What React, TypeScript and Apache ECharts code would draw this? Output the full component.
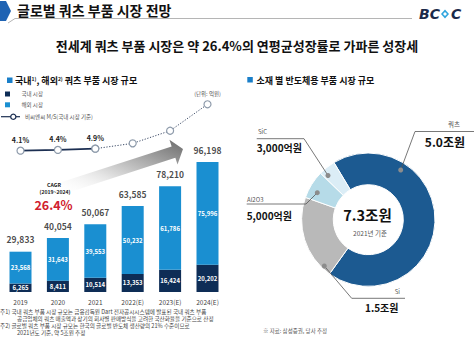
import React, { useEffect, useRef } from "react";
import * as echarts from "echarts";

// ---- data ----
const years = ["2019", "2020", "2021", "2022(E)", "2023(E)", "2024(E)"];
const domestic = [6265, 8411, 10514, 13353, 16424, 20202];
const overseas = [23568, 31643, 39553, 50232, 61786, 75996];
const totals = [29833, 40054, 50067, 63585, 78210, 96198];
const shareActual = [4.1, 4.4, 4.9, null, null, null];
const shareProjected = [null, null, 4.9, 7.0, 12.0, 22.5];

const materials = ["쿼츠", "Si", "Al2O3", "SiC"];
const materialValues = [5.0, 1.5, 0.5, 0.3]; // 조원
const materialLabels = ["5.0조원", "1.5조원", "5,000억원", "3,000억원"];
const pieTotalLabel = "7.3조원";
const pieBasis = "2021년 기준";

const titleText = "글로벌 쿼츠 부품 시장 전망";
const subtitleText = "전세계 쿼츠 부품 시장은 약 26.4%의 연평균성장률로 가파른 성장세";
const legendNames = ["국내 시장", "해외 시장", "비씨엔씨 M/S(국내 시장 기준)"];
const footnotes = [
  "주1) 국내 쿼츠 부품 시장 규모는 금융감독원 Dart 전자공시시스템에 발표된 국내 쿼츠 부품",
  "공급업체의 쿼츠 매출액과 상기의 회사별 판매방식을 고려한 국산화율을 기준으로 산정",
  "주2) 글로벌 쿼츠 부품 시장 규모는 한국의 글로벌 반도체 생산량의 21% 수준이므로",
  "2021년도 기준, 약 5조원 추정",
];

const KR = '"Noto Sans CJK KR", "Noto Sans", sans-serif';
const C_DOM = "#0e2d56";
const C_OVR = "#1a8fd1";
const PIE_COLORS = ["#1c5a91", "#b9b9b9", "#b6dbe8", "#dbedf6"];
const fmt = (v: number) => v.toLocaleString("en-US");

function txt(x: number, y: number, text: string, size: number, opts: any = {}) {
  const align = opts.align || "left";
  const valign = opts.valign || "middle";
  return {
    type: "text",
    x,
    y,
    silent: true,
    z: opts.z || 10,
    style: {
      text,
      fill: opts.color || "#222",
      font: opts.font || `${opts.bold ? "bold " : ""}${size}px ${KR}`,
      align,
      verticalAlign: valign,
      textAlign: align,
      textVerticalAlign: valign,
      rich: opts.rich,
    },
  };
}

function line(points: number[][], color = "#555", width = 0.8, extra: any = {}) {
  return {
    type: "polyline",
    silent: true,
    z: 5,
    shape: { points },
    style: { stroke: color, lineWidth: width, fill: null, ...extra },
  };
}

function dot(x: number, y: number, r = 2.5, fill = "#8c8c8c", stroke?: string, lw = 1) {
  return {
    type: "circle",
    silent: true,
    z: 12,
    shape: { cx: x, cy: y, r },
    style: { fill, stroke: stroke || null, lineWidth: lw },
  };
}

function rect(x: number, y: number, w: number, h: number, fill: string) {
  return { type: "rect", silent: true, z: 10, shape: { x, y, width: w, height: h }, style: { fill } };
}

export default function App() {
  const ref = useRef<HTMLDivElement>(null);

  useEffect(() => {
    if (!ref.current) return;
    const chart = echarts.init(ref.current, null, { renderer: "svg" });
    const LOGO_FONT = 'italic bold 14px "DejaVu Sans", sans-serif';

    const graphic: any[] = [
      // header
      {
        type: "polygon",
        silent: true,
        shape: { points: [[0, 1], [6, 1], [11, 11], [6, 21], [0, 21]] },
        style: { fill: "#1f63b3" },
      },
      line([[8, 23], [15, 18.5], [412, 18.5]], "#b5b5b5", 1),
      txt(17, 9.5, titleText, 14, { bold: true, color: "#111" }),
      // logo
      txt(419, 14, "BC", 14, { font: LOGO_FONT, color: "#1b2a4a" }),
      {
        type: "polygon",
        silent: true,
        shape: { points: [[445, 9.5], [449, 14], [445, 18.5], [441, 14]] },
        style: { fill: "#2ea5de" },
      },
      {
        type: "polygon",
        silent: true,
        shape: { points: [[445, 12], [447, 14], [445, 16], [443, 14]] },
        style: { fill: "#ffffff" },
      },
      txt(451, 14, "C", 14, { font: LOGO_FONT, color: "#1b2a4a" }),
      // subtitle
      txt(237, 45, subtitleText, 13, { bold: true, color: "#111", align: "center" }),
      // section headers
      rect(7, 77.5, 5.5, 5.5, "#1a7fc9"),
      txt(15, 80.5, "{b|국내}{s|1)}{b|, 해외}{s|2)}{b| 쿼츠 부품 시장 규모}", 9, {
        bold: true,
        rich: {
          b: { fontSize: 9, fontWeight: "bold", fontFamily: KR, fill: "#111", color: "#111" },
          s: { fontSize: 5, fontWeight: "bold", fontFamily: KR, fill: "#111", color: "#111", verticalAlign: "top" },
        },
      }),
      rect(247.3, 77, 5.5, 5.5, "#1a7fc9"),
      txt(256.5, 80, "소재 별 반도체용 부품 시장 규모", 9, { bold: true, color: "#111" }),
      // legend
      rect(5, 91.5, 5, 5, C_DOM),
      txt(21.5, 94.3, legendNames[0], 5.5, { color: "#555" }),
      rect(5, 102.3, 5, 5, C_OVR),
      txt(21.5, 105, legendNames[1], 5.5, { color: "#555" }),
      line([[1, 116.7], [20, 116.7]], "#1c2f52", 1.2),
      dot(13.3, 116.7, 2.6, "#fff", "#1c2f52", 1.3),
      txt(25, 116.7, legendNames[2], 5.5, { color: "#555" }),
      txt(207.5, 93.5, "(단위: 억원)", 5.5, { color: "#555", align: "center" }),
      // growth arrow
      {
        type: "polygon",
        silent: true,
        z: 1,
        shape: {
          points: [
            [60.15, 182.6],
            [171.64, 146.38],
            [169.47, 139.73],
            [183, 149],
            [177.51, 164.45],
            [175.34, 157.8],
            [63.85, 194.0],
          ],
        },
        style: {
          fill: new echarts.graphic.LinearGradient(0, 1, 1, 0, [
            { offset: 0, color: "rgba(255,255,255,0)" },
            { offset: 0.35, color: "#e4e4e4" },
            { offset: 1, color: "#6b6b6b" },
          ]),
        },
      },
      // CAGR
      txt(54, 184.6, "CAGR", 5.2, { bold: true, color: "#222", align: "center" }),
      txt(55, 191.6, "(2019~2024)", 5.1, { bold: true, color: "#222", align: "center" }),
      txt(53.5, 204.5, "26.4%", 12.5, { bold: true, color: "#d0202e", align: "center" }),
      // footnotes
      txt(0, 312, footnotes[0], 5.6, { color: "#444" }),
      txt(17, 319.3, footnotes[1], 5.6, { color: "#444" }),
      txt(0, 326.3, footnotes[2], 5.6, { color: "#444" }),
      txt(17, 333.3, footnotes[3], 5.6, { color: "#444" }),
      // pie center
      txt(367.5, 214, pieTotalLabel, 14.5, { bold: true, color: "#111", align: "center" }),
      txt(370, 232.5, pieBasis, 6.5, { color: "#555", align: "center" }),
      // pie annotations: quartz
      line([[400.7, 170], [415, 131.5], [475, 131.5]]),
      dot(400.7, 170),
      txt(460, 124, materials[0], 6.5, { color: "#555", align: "right" }),
      txt(465, 141, materialLabels[0], 12, { bold: true, color: "#111", align: "right" }),
      // SiC
      line([[256.7, 138.7], [304, 138.7], [328, 175.5]]),
      dot(328, 175.5),
      txt(258, 131, materials[3], 6, { color: "#555" }),
      txt(256.7, 147, materialLabels[3], 10, { bold: true, color: "#111" }),
      // Al2O3
      line([[246.7, 204], [306, 204], [317.3, 192.7]]),
      dot(317.3, 192.7),
      txt(247, 199.5, materials[2], 6, { color: "#555" }),
      txt(246.7, 215, materialLabels[2], 10, { bold: true, color: "#111" }),
      // Si
      line([[324.3, 266], [351.7, 298.3], [405, 298.3]]),
      dot(324.3, 266),
      txt(400, 291.5, materials[1], 6, { color: "#555", align: "right" }),
      txt(398.5, 307.5, materialLabels[1], 10, { bold: true, color: "#111", align: "right" }),
      // source
      txt(263, 331, "※ 자료: 삼성증권, 당사 추정", 5.5, { color: "#555" }),
    ];

    const gridLeft = 1.8;
    const gridWidth = 224.4;

    chart.setOption({
      animation: false,
      backgroundColor: "#ffffff",
      textStyle: { fontFamily: KR },
      grid: [
        { left: gridLeft, width: gridWidth, top: 156.9, height: 135.1 },
        { left: gridLeft, width: gridWidth, top: 98, height: 63 },
      ],
      xAxis: [
        {
          gridIndex: 0,
          type: "category",
          data: years,
          axisLine: { show: false },
          axisTick: { show: false },
          axisLabel: { fontSize: 6.5, color: "#444", margin: 7, fontFamily: KR },
        },
        { gridIndex: 1, type: "category", data: years, show: false },
      ],
      yAxis: [
        { gridIndex: 0, type: "value", min: 0, max: 100000, show: false },
        { gridIndex: 1, type: "value", min: 0, max: 25, show: false },
      ],
      series: [
        {
          name: legendNames[0],
          type: "bar",
          stack: "mkt",
          xAxisIndex: 0,
          yAxisIndex: 0,
          barWidth: 22,
          data: domestic,
          itemStyle: { color: C_DOM },
          label: {
            show: true,
            position: "inside",
            color: "#fff",
            fontSize: 6,
            fontWeight: "bold",
            formatter: (p: any) => fmt(p.value),
          },
          silent: true,
        },
        {
          name: legendNames[1],
          type: "bar",
          stack: "mkt",
          xAxisIndex: 0,
          yAxisIndex: 0,
          barWidth: 22,
          data: overseas,
          itemStyle: { color: C_OVR },
          label: {
            show: true,
            position: "inside",
            color: "#fff",
            fontSize: 6,
            fontWeight: "bold",
            formatter: (p: any) => fmt(p.value),
          },
          silent: true,
        },
        {
          name: "합계",
          type: "scatter",
          xAxisIndex: 0,
          yAxisIndex: 0,
          data: totals,
          symbolSize: 0.1,
          itemStyle: { color: "rgba(0,0,0,0)" },
          label: {
            show: true,
            position: "top",
            distance: 8,
            color: "#1a1a1a",
            fontSize: 8.5,
            fontWeight: "bold",
            formatter: (p: any) => fmt(p.value),
          },
          silent: true,
        },
        {
          name: "M/S 전망",
          type: "line",
          xAxisIndex: 1,
          yAxisIndex: 1,
          data: shareProjected,
          symbol: "circle",
          symbolSize: 7,
          lineStyle: { color: "#3b4a66", width: 1, type: [1.2, 1.6] },
          itemStyle: { color: "#fff", borderColor: "#8e9bab", borderWidth: 1.2 },
          silent: true,
          z: 3,
        },
        {
          name: legendNames[2],
          type: "line",
          xAxisIndex: 1,
          yAxisIndex: 1,
          data: shareActual,
          symbol: "circle",
          symbolSize: 7,
          lineStyle: { color: "#1c2f52", width: 1.6 },
          itemStyle: { color: "#fff", borderColor: "#8e9bab", borderWidth: 1.2 },
          label: {
            show: true,
            position: "top",
            distance: 3,
            color: "#222",
            fontSize: 7,
            fontWeight: "bold",
            formatter: (p: any) => p.value + "%",
          },
          silent: true,
          z: 4,
        },
        {
          name: "소재별",
          type: "pie",
          center: [368.3, 219.7],
          radius: [35, 66.7],
          startAngle: 121,
          clockwise: true,
          label: { show: false },
          labelLine: { show: false },
          itemStyle: { borderColor: "#fff", borderWidth: 1 },
          silent: true,
          data: materials.map((m, i) => ({
            name: m,
            value: materialValues[i],
            itemStyle: { color: PIE_COLORS[i] },
          })),
        },
      ],
      graphic,
    });

    return () => chart.dispose();
  }, []);

  return (
    <div
      ref={ref}
      style={{ position: "fixed", left: 0, top: 0, width: 474, height: 337, background: "#fff" }}
    />
  );
}
